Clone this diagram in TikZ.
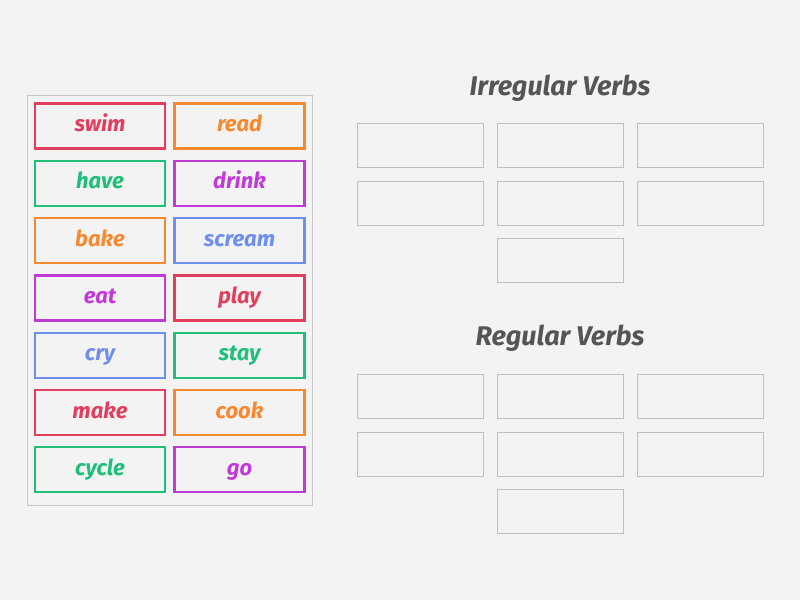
\documentclass[tikz,border=0pt]{standalone}
\usepackage{fontspec}
\setmainfont{Fira Sans}
\definecolor{cr}{HTML}{E0405E}
\definecolor{co}{HTML}{F5892F}
\definecolor{cg}{HTML}{1FBF7A}
\definecolor{cp}{HTML}{C03BD6}
\definecolor{cb}{HTML}{6E8FEA}
\definecolor{bg}{HTML}{F3F3F4}
\definecolor{ttl}{HTML}{555555}
\begin{document}
\begin{tikzpicture}[x=1pt,y=-1pt,
 card/.style={draw=#1,text=#1,line width=2.2pt,minimum width=130pt,minimum height=45pt,inner sep=0pt,text height=16pt,text depth=5pt,font=\fontsize{22}{24}\selectfont\bfseries\itshape,fill=bg},
 slot/.style={draw=black!25,line width=0.8pt,fill=bg,minimum width=126pt,minimum height=44pt,inner sep=0pt},
 ttlstyle/.style={text=ttl,font=\fontsize{27}{29}\selectfont\bfseries\itshape}]
\fill[bg] (0,0) rectangle (800,600);
\useasboundingbox (0,0) rectangle (800,600);
\draw[black!22,line width=0.8pt,fill=bg] (27,95) rectangle (312,505);
\foreach \n/\w/\c [count=\i from 0] in {a/swim/cr,b/have/cg,c/bake/co,d/eat/cp,e/cry/cb,f/make/cr,g/cycle/cg}
  \node[card=\c] (L\n) at (100,126+57.3*\i) {\w};
\foreach \n/\w/\c [count=\i from 0] in {a/read/co,b/drink/cp,c/scream/cb,d/play/cr,e/stay/cg,f/cook/co,g/go/cp}
  \node[card=\c] (R\n) at (239.5,126+57.3*\i) {\w};
\node[ttlstyle] (t1) at (560,88) {Irregular Verbs};
\node[ttlstyle] (t2) at (560,338) {Regular Verbs};
\foreach \x [count=\j] in {420,560,700}{
  \node[slot] (i1\j) at (\x,145) {};
  \node[slot] (i2\j) at (\x,203) {};
  \node[slot] (r1\j) at (\x,396) {};
  \node[slot] (r2\j) at (\x,454) {};
}
\node[slot] (i3) at (560,260.5) {};
\node[slot] (r3) at (560,511) {};
\end{tikzpicture}
\end{document}
